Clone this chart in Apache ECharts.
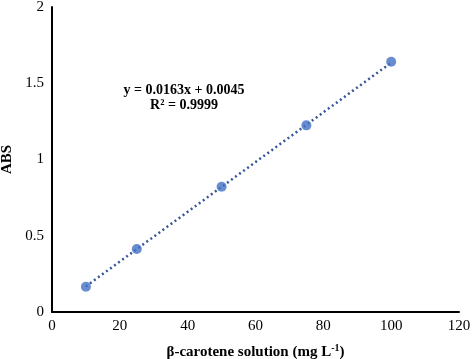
<!DOCTYPE html>
<html><head><meta charset="utf-8">
<script src="https://cdn.jsdelivr.net/npm/echarts@6/dist/echarts.min.js"></script>
<style>html,body{margin:0;padding:0;background:#fff}#c{width:474px;height:359px}</style>
</head><body><div id="c"></div>
<script>
const concentrations = [10, 25, 50, 75, 100];
const absValues = [0.165, 0.413, 0.821, 1.224, 1.641];
const trendX = [10, 100];
const trendY = [0.168, 1.635];
const equationLines = ['y = 0.0163x + 0.0045', 'R² = 0.9999'];
const xTicks = [0, 20, 40, 60, 80, 100, 120];
const yTicks = [0, 0.5, 1, 1.5, 2];

const serif = '"Liberation Serif", "DejaVu Serif", serif';
const chart = echarts.init(document.getElementById('c'), null, {renderer: 'canvas'});
chart.setOption({
  animation: false,
  backgroundColor: '#fff',
  grid: {left: 52, right: 15, top: 7, bottom: 47, containLabel: false, outerBoundsMode: 'none'},
  xAxis: {
    type: 'value', min: xTicks[0], max: xTicks[xTicks.length - 1], interval: 20,
    axisLine: {lineStyle: {color: '#000', width: 2}},
    axisTick: {show: false},
    splitLine: {show: false},
    axisLabel: {color: '#000', fontFamily: serif, fontSize: 15, margin: 7},
    name: '{b|β-carotene solution (mg L}{s|-1}{b|)}',
    nameLocation: 'middle', nameGap: 31,
    nameTextStyle: {
      rich: {
        b: {fontFamily: serif, fontWeight: 'bold', fontSize: 15, color: '#000'},
        s: {fontFamily: serif, fontWeight: 'bold', fontSize: 10, color: '#000', verticalAlign: 'top', padding: [0, 0, 8, 0]}
      }
    }
  },
  yAxis: {
    type: 'value', min: yTicks[0], max: yTicks[yTicks.length - 1], interval: 0.5,
    axisLine: {show: true, lineStyle: {color: '#000', width: 2}},
    axisTick: {show: false},
    splitLine: {show: false},
    axisLabel: {color: '#000', fontFamily: serif, fontSize: 15, margin: 8},
    name: 'ABS', nameLocation: 'middle', nameGap: 36,
    nameTextStyle: {fontFamily: serif, fontWeight: 'bold', fontSize: 15, color: '#000'}
  },
  series: [
    {
      type: 'line',
      data: trendX.map((x, i) => [x, trendY[i]]),
      symbol: 'none',
      lineStyle: {color: '#34559A', width: 2.5, type: [2, 3]},
      z: 1
    },
    {
      type: 'scatter',
      data: concentrations.map((x, i) => [x, absValues[i]]),
      symbol: 'circle', symbolSize: 10,
      itemStyle: {color: '#4472C4'},
      z: 2
    }
  ],
  graphic: [
    {type: 'text', x: 184, y: 90, style: {text: equationLines[0], fontFamily: serif, fontWeight: 'bold', fontSize: 14, fill: '#000', align: 'center', verticalAlign: 'middle'}},
    {type: 'text', x: 184, y: 105, style: {text: equationLines[1], fontFamily: serif, fontWeight: 'bold', fontSize: 14, fill: '#000', align: 'center', verticalAlign: 'middle'}}
  ]
});
</script></body></html>
